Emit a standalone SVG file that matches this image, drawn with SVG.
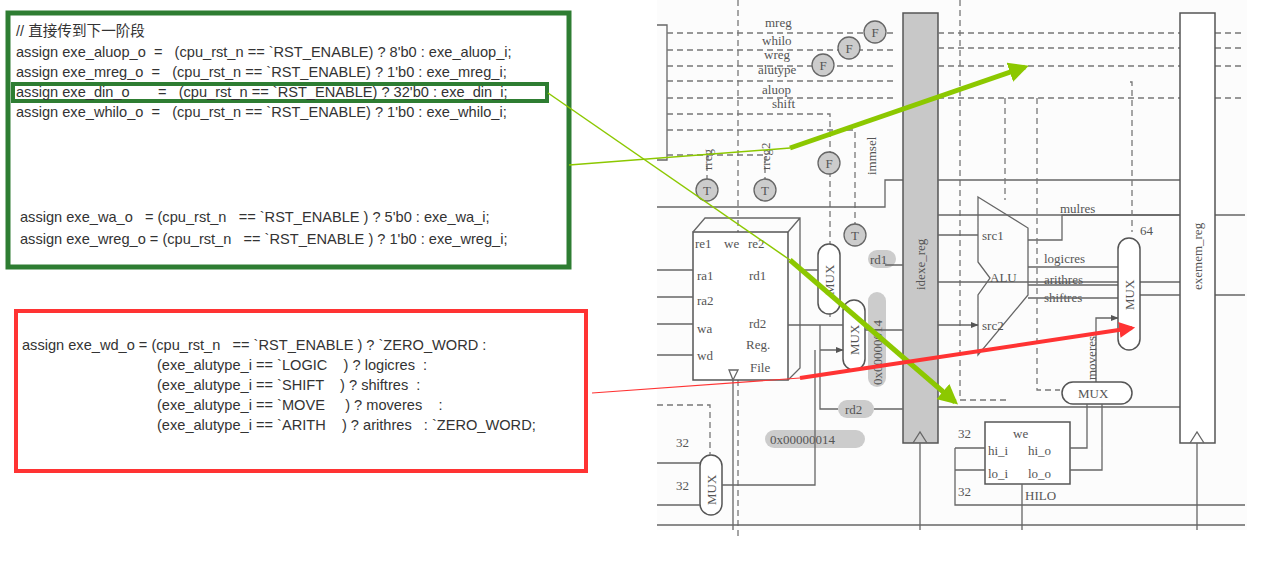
<svg xmlns="http://www.w3.org/2000/svg" width="1288" height="561" viewBox="0 0 1288 561">
<defs>
<style>
.code{font-family:"Liberation Sans","Noto Sans CJK SC",sans-serif;font-size:14.6px;fill:#333;white-space:pre}
.t{font-family:"Liberation Serif",serif;font-size:13px;fill:#555}
.w{stroke:#666;stroke-width:1.3;fill:none}
.d{stroke:#777;stroke-width:1.3;fill:none;stroke-dasharray:6 4}
.c{fill:#ccc;stroke:#666;stroke-width:1.3}
.lab{fill:#ccc}
</style>
<marker id="a" viewBox="0 0 10 10" refX="9" refY="5" markerWidth="6" markerHeight="6" orient="auto"><path d="M0,1L10,5L0,9z" fill="#555"/></marker>
<marker id="ga" viewBox="0 0 10 10" refX="8" refY="5" markerWidth="4" markerHeight="4" orient="auto"><path d="M0,0L10,5L0,10z" fill="#8cc800"/></marker>
<marker id="ra" viewBox="0 0 10 10" refX="8" refY="5" markerWidth="4" markerHeight="4" orient="auto"><path d="M0,0L10,5L0,10z" fill="#f33"/></marker>
</defs>
<rect width="1288" height="561" fill="#fff"/>

<g id="circuit">
<rect x="657" y="0" width="590" height="530" fill="#fcfcfc"/>
<path class="w" d="M657,25H667V160H657"/>
<path class="d" d="M667,33H895M667,50H895M667,66H895M667,81H895M667,98H895M667,114H830V320M667,130H855V232M667,155H707V180M667,155H765V180"/>
<path class="d" d="M738,0V540M960,0V400H1010"/>
<text class="t" x="765" y="27">mreg</text><text class="t" x="762" y="45">whilo</text><text class="t" x="764" y="59">wreg</text><text class="t" x="758" y="74">alutype</text><text class="t" x="762" y="94">aluop</text><text class="t" x="772" y="108">shift</text>
<g class="c"><circle cx="875" cy="32" r="11"/><circle cx="849" cy="48" r="11"/><circle cx="823" cy="65" r="11"/><circle cx="829" cy="163" r="11"/><circle cx="707" cy="190" r="11"/><circle cx="765" cy="190" r="11"/><circle cx="855" cy="235" r="11"/></g>
<g class="t" text-anchor="middle"><text x="875" y="37">F</text><text x="849" y="53">F</text><text x="823" y="70">F</text><text x="829" y="168">F</text><text x="707" y="195">T</text><text x="765" y="195">T</text><text x="855" y="240">T</text></g>
<text class="t" transform="translate(712,170) rotate(-90)">rreg</text><text class="t" transform="translate(770,170) rotate(-90)">rreg2</text><text class="t" transform="translate(876,175) rotate(-90)">immsel</text>
<path class="w" d="M657,207H885V180H905"/>
<rect x="903" y="13" width="35" height="430" fill="#c8c8c8" stroke="#555" stroke-width="1.5"/>
<path class="w" d="M913,443L920,432L927,443"/>
<text class="t" transform="translate(925,290) rotate(-90)">idexe_reg</text>
<rect x="693" y="232" width="95" height="148" fill="#fff" stroke="#555" stroke-width="1.5"/>
<path class="w" d="M693,232L705,218H800V368L788,380M788,232L800,218"/>
<g class="t"><text x="695" y="248">re1</text><text x="724" y="248">we</text><text x="748" y="248">re2</text><text x="697" y="280">ra1</text><text x="697" y="305">ra2</text><text x="697" y="333">wa</text><text x="697" y="360">wd</text><text x="749" y="280">rd1</text><text x="749" y="328">rd2</text><text x="746" y="349">Reg.</text><text x="750" y="372">File</text></g>
<path class="w" d="M657,270H693M657,297H693M657,324H693M657,355H693M733,380L729,370L738,370z"/>
<rect x="818" y="244" width="22" height="70" rx="11" fill="#fff" stroke="#555" stroke-width="1.5"/>
<text class="t" transform="translate(834,295) rotate(-90)">MUX</text>
<rect x="843" y="300" width="22" height="70" rx="11" fill="#fff" stroke="#555" stroke-width="1.5"/>
<text class="t" transform="translate(859,355) rotate(-90)">MUX</text>
<rect x="868" y="250" width="28" height="18" rx="9" class="lab"/><text class="t" x="870" y="264">rd1</text>
<rect x="868" y="292" width="18" height="95" rx="9" class="lab"/><text class="t" transform="translate(882,385) rotate(-90)">0x00000014</text>
<rect x="838" y="400" width="36" height="18" rx="9" class="lab"/><text class="t" x="845" y="414">rd2</text>
<rect x="765" y="430" width="100" height="18" rx="9" class="lab"/><text class="t" x="770" y="444">0x00000014</text>
<path class="w" d="M788,325H843M800,270H818M865,330H903M885,265H903M874,409H903M820,325V409H838M820,350H843" marker-end="url(#a)"/>
<rect x="700" y="455" width="22" height="60" rx="11" fill="#fff" stroke="#555" stroke-width="1.5"/>
<text class="t" transform="translate(716,505) rotate(-90)">MUX</text>
<text class="t" x="676" y="447">32</text><text class="t" x="676" y="490">32</text>
<path class="w" d="M657,463H700M657,505H700M722,485H815V350M733,380V530M920,530V443M657,525H1245"/>
<path class="d" d="M657,405H710V455"/>
<path class="d" d="M938,33H1180M938,48H1180M938,66H1180M938,98H1180M1215,33H1245M1215,48H1245M1215,66H1245M1215,98H1245"/>
<path class="w" d="M938,180H1180M938,215H1180M938,282H1180M938,407H1180M1215,215H1245M1215,295H1245"/>
<rect x="1180" y="13" width="35" height="430" fill="#fff" stroke="#555" stroke-width="1.5"/>
<path class="w" d="M1190,443L1197,432L1204,443M1197,443V530"/>
<text class="t" transform="translate(1202,290) rotate(-90)">exemem_reg</text>
<path class="w" d="M978,197L1028,228V295L978,355V295L990,278L978,262z"/>
<g class="t"><text x="982" y="240">src1</text><text x="990" y="282">ALU</text><text x="982" y="330">src2</text><text x="1060" y="213">mulres</text><text x="1044" y="263">logicres</text><text x="1044" y="284">arithres</text><text x="1044" y="302">shiftres</text><text x="1140" y="235">64</text></g>
<path class="w" d="M1028,240H1062V215H1180M1028,267H1118M1028,285H1118M1028,298H1118M1140,295H1180M1096,395V318H1118" marker-end="url(#a)"/>
<path class="w" d="M938,235H978M938,325H978" marker-end="url(#a)"/>
<rect x="1118" y="238" width="22" height="112" rx="11" fill="#fff" stroke="#555" stroke-width="1.5"/>
<text class="t" transform="translate(1134,310) rotate(-90)">MUX</text>
<text class="t" transform="translate(1096,380) rotate(-90)">moveres</text>
<path class="d" d="M1005,98V200M1037,98V390H1060M1130,82H1132V232"/>
<rect x="1062" y="382" width="70" height="22" rx="11" fill="#fff" stroke="#555" stroke-width="1.5"/>
<text class="t" x="1078" y="398">MUX</text>
<rect x="985" y="422" width="85" height="62" fill="#fff" stroke="#555" stroke-width="1.5"/>
<g class="t"><text x="1013" y="438">we</text><text x="988" y="455">hi_i</text><text x="1028" y="455">hi_o</text><text x="988" y="478">lo_i</text><text x="1028" y="478">lo_o</text><text x="1025" y="500">HILO</text><text x="958" y="438">32</text><text x="958" y="496">32</text></g>
<path class="w" d="M1070,448H1087V404M1070,470H1102V404M955,448H985M955,470H985M955,448V505H1245M1022,484V530"/>
</g>

<g id="code-green">
<rect x="8" y="13" width="561" height="254" fill="#fff" stroke="#2e7d32" stroke-width="5"/>
<rect x="13" y="84" width="534" height="17" fill="none" stroke="#2e7d32" stroke-width="4"/>
<text class="code" x="16" y="36" font-size="15">// 直接传到下一阶段</text>
<text class="code" x="16" y="57" xml:space="preserve">assign exe_aluop_o  =   (cpu_rst_n == `RST_ENABLE) ? 8'b0 : exe_aluop_i;</text>
<text class="code" x="16" y="77" xml:space="preserve">assign exe_mreg_o  =   (cpu_rst_n == `RST_ENABLE) ? 1'b0 : exe_mreg_i;</text>
<text class="code" x="16" y="97" xml:space="preserve">assign exe_din_o       =   (cpu_rst_n == `RST_ENABLE) ? 32'b0 : exe_din_i;</text>
<text class="code" x="16" y="117" xml:space="preserve">assign exe_whilo_o  =   (cpu_rst_n == `RST_ENABLE) ? 1'b0 : exe_whilo_i;</text>
<text class="code" x="20" y="222" xml:space="preserve">assign exe_wa_o   = (cpu_rst_n   == `RST_ENABLE ) ? 5'b0 : exe_wa_i;</text>
<text class="code" x="20" y="244" xml:space="preserve">assign exe_wreg_o = (cpu_rst_n   == `RST_ENABLE ) ? 1'b0 : exe_wreg_i;</text>
</g>

<g id="code-red">
<rect x="16" y="311" width="570" height="160" fill="#fff" stroke="#f33" stroke-width="4"/>
<text class="code" x="22" y="350" xml:space="preserve">assign exe_wd_o = (cpu_rst_n   == `RST_ENABLE ) ? `ZERO_WORD :</text>
<text class="code" x="157" y="370" xml:space="preserve">(exe_alutype_i == `LOGIC    ) ? logicres  :</text>
<text class="code" x="157" y="390" xml:space="preserve">(exe_alutype_i == `SHIFT    ) ? shiftres  :</text>
<text class="code" x="157" y="410" xml:space="preserve">(exe_alutype_i == `MOVE     ) ? moveres    :</text>
<text class="code" x="157" y="430" xml:space="preserve">(exe_alutype_i == `ARITH    ) ? arithres   : `ZERO_WORD;</text>
</g>

<g id="connectors">
<path d="M569,165L790,148" stroke="#8cc800" stroke-width="1.5"/>
<path d="M790,148L1025,67" stroke="#8cc800" stroke-width="5" marker-end="url(#ga)"/>
<path d="M548,93L790,260" stroke="#8cc800" stroke-width="1.5"/>
<path d="M790,260L955,402" stroke="#8cc800" stroke-width="5" marker-end="url(#ga)"/>
<path d="M592,393L800,378" stroke="#f33" stroke-width="1.2"/>
<path d="M800,378L1132,328" stroke="#f33" stroke-width="4" marker-end="url(#ra)"/>
</g>
</svg>
